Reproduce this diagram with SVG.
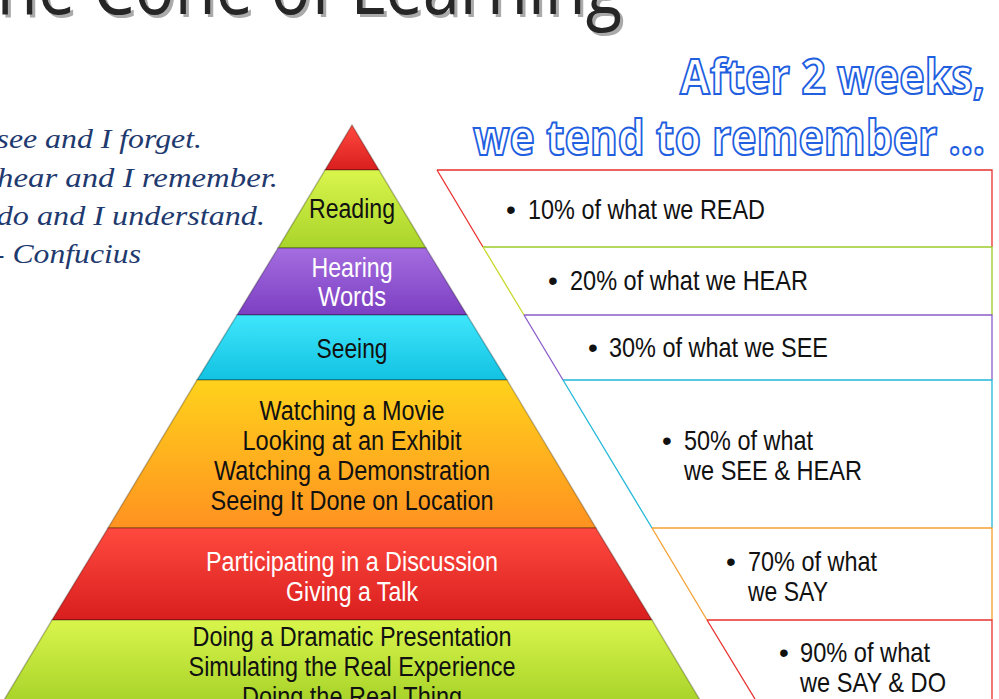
<svg xmlns="http://www.w3.org/2000/svg" width="999" height="699" viewBox="0 0 999 699">
<defs>
<style>
.t{font-family:"Liberation Sans",Arial,sans-serif;font-size:27px;text-anchor:middle}
.r{font-family:"Liberation Sans",Arial,sans-serif;font-size:28px;fill:#111}
.q{font-family:"Liberation Serif",serif;font-style:italic;font-size:28px;fill:#1f3a6e}
.h{font-family:"Open Sans","Liberation Sans",sans-serif;font-size:48px;font-weight:bold;fill:#fff;stroke:#1f5fe0;stroke-width:2}
.band{stroke:rgba(0,0,0,0.25);stroke-width:1.5}
</style>
<linearGradient id="gRed" x1="0" y1="0" x2="0" y2="1"><stop offset="0" stop-color="#ff4a3f"/><stop offset="1" stop-color="#d91e1e"/></linearGradient>
<linearGradient id="gLime" x1="0" y1="0" x2="0" y2="1"><stop offset="0" stop-color="#d9f54c"/><stop offset="1" stop-color="#a9d42a"/></linearGradient>
<linearGradient id="gPur" x1="0" y1="0" x2="0" y2="1"><stop offset="0" stop-color="#a56de0"/><stop offset="1" stop-color="#7c3fc2"/></linearGradient>
<linearGradient id="gCyan" x1="0" y1="0" x2="0" y2="1"><stop offset="0" stop-color="#3fe6fb"/><stop offset="1" stop-color="#12c2e2"/></linearGradient>
<linearGradient id="gOr" x1="0" y1="0" x2="0" y2="1"><stop offset="0" stop-color="#ffd21c"/><stop offset="1" stop-color="#ff9220"/></linearGradient>
</defs>
<rect width="999" height="699" fill="#fff"/>
<text x="-40" y="14" font-family="'Open Sans','Liberation Sans',sans-serif" font-size="80" fill="#aaa" textLength="662" lengthAdjust="spacingAndGlyphs" transform="translate(3,3)">The Cone of Learning</text>
<text x="-40" y="14" font-family="'Open Sans','Liberation Sans',sans-serif" font-size="80" fill="#262626" textLength="662" lengthAdjust="spacingAndGlyphs">The Cone of Learning</text>
<g id="quote">
<text class="q" x="-22" y="148" textLength="224" lengthAdjust="spacingAndGlyphs">I see and I forget.</text>
<text class="q" x="-22" y="187" textLength="300" lengthAdjust="spacingAndGlyphs">I hear and I remember.</text>
<text class="q" x="-22" y="225" textLength="287" lengthAdjust="spacingAndGlyphs">I do and I understand.</text>
<text class="q" x="-6" y="263" textLength="147" lengthAdjust="spacingAndGlyphs">- Confucius</text>
</g>
<g id="heading">
<text class="h" x="680" y="94" textLength="305" lengthAdjust="spacingAndGlyphs">After 2 weeks,</text>
<text class="h" x="473" y="155" textLength="512" lengthAdjust="spacingAndGlyphs">we tend to remember ...</text>
</g>
<g id="table" fill="none" stroke-width="1.3">
<path d="M437,170 H992 V247" stroke="#e8302e"/>
<path d="M437,170 L483,247" stroke="#e8302e"/>
<path d="M483,247 H992 V315" stroke="#9ccc2a"/>
<path d="M483,247 L524,315" stroke="#c8d82a"/>
<path d="M524,315 H992 V380" stroke="#8a5cc8"/>
<path d="M524,315 L563,380" stroke="#8a5cc8"/>
<path d="M563,380 H992 V528" stroke="#22b8d8"/>
<path d="M563,380 L652,528" stroke="#22b8d8"/>
<path d="M652,528 H992 V620" stroke="#f5a030"/>
<path d="M652,528 L707,620" stroke="#f5a030"/>
<path d="M707,620 H992 V699" stroke="#e8302e"/>
<path d="M707,620 L755,699" stroke="#e8302e"/>
</g>
<g id="pyramid">
<g id="tip"><polygon class="band" points="352,125 379,170 325,170" fill="url(#gRed)"/></g>
<g id="reading"><polygon class="band" points="325,170 379,170 426,248 278,248" fill="url(#gLime)"/>
<text class="t" x="352" y="218" fill="#111" textLength="86" lengthAdjust="spacingAndGlyphs">Reading</text></g>
<g id="hearing"><polygon class="band" points="278,248 426,248 467,315 237,315" fill="url(#gPur)"/>
<text class="t" x="352" y="277" fill="#fff" textLength="81" lengthAdjust="spacingAndGlyphs">Hearing</text><text class="t" x="352" y="306" fill="#fff" textLength="68" lengthAdjust="spacingAndGlyphs">Words</text></g>
<g id="seeing"><polygon class="band" points="237,315 467,315 507,380 197,380" fill="url(#gCyan)"/>
<text class="t" x="352" y="358" fill="#111" textLength="71" lengthAdjust="spacingAndGlyphs">Seeing</text></g>
<g id="watching"><polygon class="band" points="197,380 507,380 596,528 108,528" fill="url(#gOr)"/>
<text class="t" x="352" y="420" fill="#111" textLength="185" lengthAdjust="spacingAndGlyphs">Watching a Movie</text>
<text class="t" x="352" y="450" fill="#111" textLength="219" lengthAdjust="spacingAndGlyphs">Looking at an Exhibit</text>
<text class="t" x="352" y="480" fill="#111" textLength="276" lengthAdjust="spacingAndGlyphs">Watching a Demonstration</text>
<text class="t" x="352" y="510" fill="#111" textLength="283" lengthAdjust="spacingAndGlyphs">Seeing It Done on Location</text></g>
<g id="participating"><polygon class="band" points="108,528 596,528 652,620 52,620" fill="url(#gRed)"/>
<text class="t" x="352" y="571" fill="#fff" textLength="292" lengthAdjust="spacingAndGlyphs">Participating in a Discussion</text>
<text class="t" x="352" y="601" fill="#fff" textLength="132" lengthAdjust="spacingAndGlyphs">Giving a Talk</text></g>
<g id="doing"><polygon class="band" points="52,620 652,620 700,700 4,700" fill="url(#gLime)"/>
<text class="t" x="352" y="646" fill="#111" textLength="319" lengthAdjust="spacingAndGlyphs">Doing a Dramatic Presentation</text>
<text class="t" x="352" y="676" fill="#111" textLength="327" lengthAdjust="spacingAndGlyphs">Simulating the Real Experience</text>
<text class="t" x="352" y="706" fill="#111" textLength="220" lengthAdjust="spacingAndGlyphs">Doing the Real Thing</text></g>
</g>
<g id="percent">
<text class="r" x="506" y="219">•</text><text class="r" x="528" y="219" textLength="237" lengthAdjust="spacingAndGlyphs">10% of what we READ</text>
<text class="r" x="548" y="290">•</text><text class="r" x="570" y="290" textLength="238" lengthAdjust="spacingAndGlyphs">20% of what we HEAR</text>
<text class="r" x="588" y="357">•</text><text class="r" x="609" y="357" textLength="219" lengthAdjust="spacingAndGlyphs">30% of what we SEE</text>
<text class="r" x="662" y="450">•</text><text class="r" x="684" y="450" textLength="129" lengthAdjust="spacingAndGlyphs">50% of what</text>
<text class="r" x="684" y="480" textLength="178" lengthAdjust="spacingAndGlyphs">we SEE &amp; HEAR</text>
<text class="r" x="726" y="571">•</text><text class="r" x="748" y="571" textLength="129" lengthAdjust="spacingAndGlyphs">70% of what</text>
<text class="r" x="748" y="601" textLength="80" lengthAdjust="spacingAndGlyphs">we SAY</text>
<text class="r" x="779" y="662">•</text><text class="r" x="800" y="662" textLength="130" lengthAdjust="spacingAndGlyphs">90% of what</text>
<text class="r" x="800" y="692" textLength="146" lengthAdjust="spacingAndGlyphs">we SAY &amp; DO</text>
</g>
</svg>
